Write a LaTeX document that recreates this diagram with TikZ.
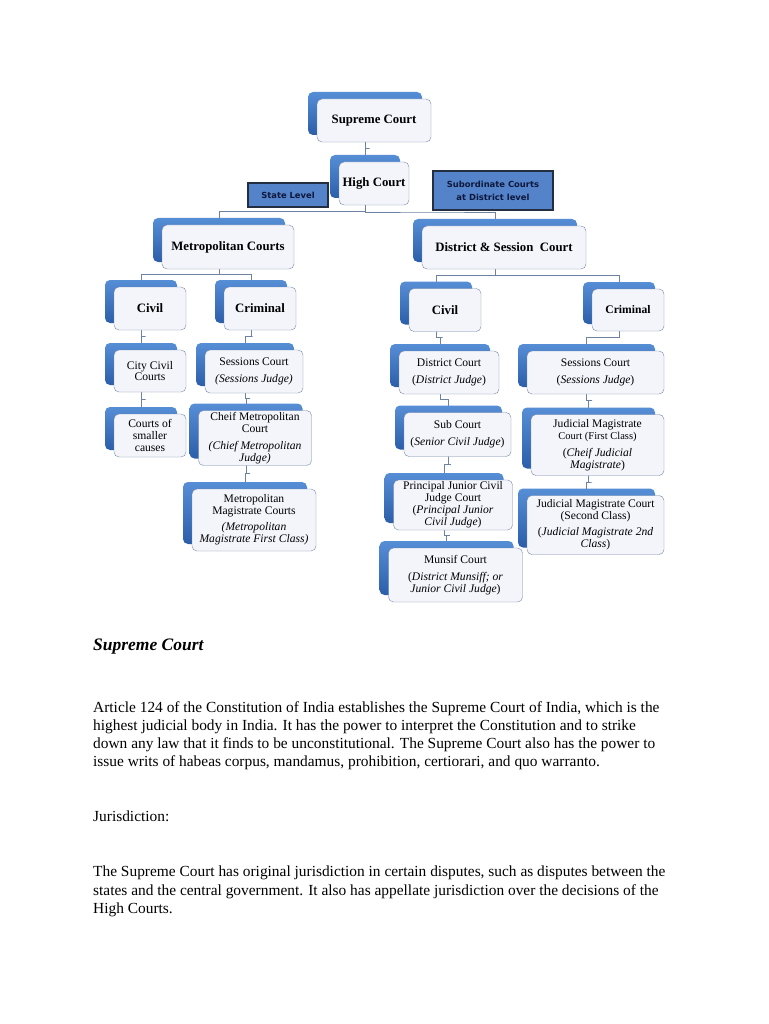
\documentclass[tikz,border=0pt]{standalone}
\usepackage{fontspec}
\setmainfont{Liberation Serif}
\newfontfamily\tagfamily{DejaVu Sans}
\usetikzlibrary{calc,backgrounds}

\definecolor{boxtop}{RGB}{86,142,214}
\definecolor{boxbot}{RGB}{44,94,170}
\definecolor{boxfill}{RGB}{243,245,251}
\definecolor{boxline}{RGB}{118,136,166}
\definecolor{linkcol}{RGB}{110,130,162}
\definecolor{tagfill}{RGB}{84,131,202}
\definecolor{tagline}{RGB}{36,46,66}
\definecolor{tagtext}{RGB}{14,24,60}

% one court: back box, front box shifted down right
\newcommand{\court}[6]{%
  \node[back, minimum width=#4, minimum height=#5] (#1) at (#3) {};
  \node[#2, minimum width=#4, minimum height=#5] (#1-f) at ([shift={(9,7)}]#1.center) {#6};}

\begin{document}
\begin{tikzpicture}[x=1pt,y=-1pt,
  back/.style={rounded corners=5pt, top color=boxtop, bottom color=boxbot, inner sep=0pt},
  front/.style={draw=boxline, fill=boxfill, rounded corners=5pt, align=center, inner sep=1pt},
  toptxt/.style={front, font=\fontsize{12.8}{14}\selectfont\bfseries},
  lowtxt/.style={front, font=\fontsize{11.6}{11.9}\selectfont},
  tagbox/.style={draw=tagline, fill=tagfill, line width=1.3pt, inner sep=0pt, align=center,
    text=tagtext, font=\tagfamily\fontsize{8.4}{13}\selectfont\bfseries},
  link/.style={draw=linkcol, line width=0.9pt},
  bodytxt/.style={anchor=north west, inner sep=0pt, align=left, font=\fontsize{15.4}{18.2}\selectfont}]
\useasboundingbox (0,0) rectangle (768,1024);

% top of the hierarchy
\court{sc}{toptxt}{365,113.5}{114}{43}{Supreme Court}
\court{hc}{toptxt}{365,176.5}{70}{43}{High Court}
\court{metro}{toptxt}{219,240}{132}{44}{Metropolitan Courts}
\court{dist}{toptxt}{495,240.5}{164}{43}{District \& Session\ \ Court}

\node[tagbox, minimum width=80, minimum height=24] (state) at (288,195) {State Level};
\node[tagbox, minimum width=120, minimum height=39] (subord) at (493,190.5) {Subordinate Courts\\at District level};

% metropolitan side
\court{mciv}{toptxt}{141,301.5}{72}{43}{Civil}
\court{mcri}{toptxt}{251,301.5}{72}{43}{Criminal}
\court{city}{lowtxt}{141,364}{72}{42}{City Civil\\Courts}
\court{small}{lowtxt}{141,428.5}{72}{43}{Courts of\\smaller\\causes}
\court{msess}{lowtxt}{245,364.5}{98}{43}{Sessions Court\\[5pt]\textit{(Sessions Judge)}}
\court{cmm}{lowtxt}{246,431}{113}{55}{Cheif Metropolitan\\Court\\[5pt]\textit{(Chief Metropolitan}\\\textit{Judge)}}
\court{mmc}{lowtxt}{245,513}{124}{62}{Metropolitan\\Magistrate Courts\\[4pt]\textit{(Metropolitan}\\\textit{Magistrate First Class)}}

% district side
\court{dciv}{toptxt}{436,303}{72}{43}{Civil}
\court{dcri}{toptxt}{619,303}{72}{42}{\fontsize{11.6}{13}\selectfont Criminal}
\court{dcourt}{lowtxt}{440,365.5}{100}{43}{District Court\\[5pt](\textit{District Judge})}
\court{subc}{lowtxt}{448.5,427.5}{107}{44}{Sub Court\\[5pt](\textit{Senior Civil Judge})}
\court{pjc}{lowtxt}{444,498}{119}{50}{Principal Junior Civil\\Judge Court\\(\textit{Principal Junior}\\\textit{Civil Judge})}
\court{munsif}{lowtxt}{446.5,568}{134}{54}{Munsif Court\\[5pt](\textit{District Munsiff; or}\\\textit{Junior Civil Judge})}
\court{dsess}{lowtxt}{586.5,365.5}{137}{43}{Sessions Court\\[5pt](\textit{Sessions Judge})}
\court{jmone}{lowtxt}{588.5,438}{133}{61}{Judicial Magistrate\\{\fontsize{10.5}{11.9}\selectfont Court (First Class)}\\[5pt](\textit{Cheif Judicial}\\\textit{Magistrate})}
\court{jmtwo}{lowtxt}{586.5,518}{137}{59}{Judicial Magistrate Court\\(Second Class)\\[4pt](\textit{Judicial Magistrate 2nd}\\\textit{Class})}

% elbow connectors behind the boxes
\begin{pgfonlayer}{background}
\fill[white] (0,0) rectangle (768,1024);
\foreach \p/\c in {sc/hc, hc/metro, hc/dist, metro/mciv, metro/mcri, mciv/city, city/small,
    mcri/msess, msess/cmm, cmm/mmc, dist/dciv, dist/dcri, dciv/dcourt, dcourt/subc,
    subc/pjc, pjc/munsif, dcri/dsess, dsess/jmone, jmone/jmtwo}
  \draw[link] (\p.center) |- ($(\p-f.south)!.5!(\c.north)$) -| (\c.center);
\end{pgfonlayer}

% text below the chart
\node[anchor=north west, inner sep=0pt, font=\fontsize{17.5}{19}\selectfont\bfseries\itshape] (head) at (93,639) {Supreme Court};
\node[bodytxt] (art) at (93,701) {Article 124 of the Constitution of India establishes the Supreme Court of India, which is the\\
highest judicial body in India. It has the power to interpret the Constitution and to strike\\
down any law that it finds to be unconstitutional. The Supreme Court also has the power to\\
issue writs of habeas corpus, mandamus, prohibition, certiorari, and quo warranto.};
\node[bodytxt] (jur) at (93,811) {Jurisdiction:};
\node[bodytxt] (orig) at (93,866) {The Supreme Court has original jurisdiction in certain disputes, such as disputes between the\\
states and the central government. It also has appellate jurisdiction over the decisions of the\\
High Courts.};
\end{tikzpicture}
\end{document}
